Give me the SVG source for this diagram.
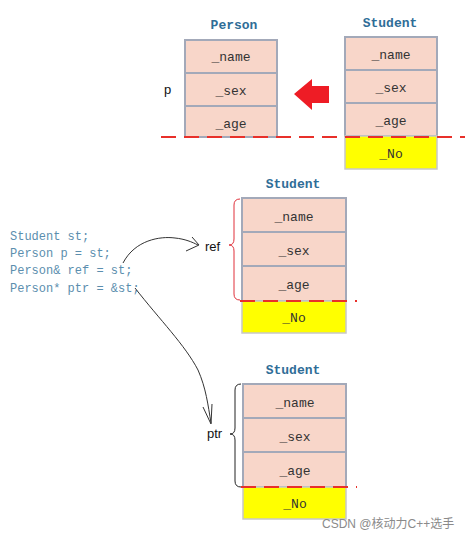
<svg xmlns="http://www.w3.org/2000/svg" width="474" height="537" viewBox="0 0 474 537">
<defs>
<style>
.cell{fill:#f8d6c9;stroke:#a3a9b9;stroke-width:2}
.no{fill:#ffff00;stroke:#c8c8c8;stroke-width:1.5}
.lbl{font-family:"Liberation Mono",monospace;font-size:13px;fill:#333;text-anchor:middle}
.ttl{font-family:"Liberation Mono",monospace;font-size:13px;font-weight:bold;fill:#2f6d97;text-anchor:middle}
.code{font-family:"Liberation Mono",monospace;font-size:12px;fill:#5b8eae}
.side{font-family:"Liberation Sans",Arial,sans-serif;font-size:13px;fill:#111}
.dash{stroke:#e8302a;stroke-width:2;stroke-dasharray:15 8;fill:none}
.curve{stroke:#333;stroke-width:1;fill:none}
</style>
</defs>
<rect width="474" height="537" fill="#fff"/>

<g id="person-top">
<text class="ttl" x="234" y="29">Person</text>
<rect class="cell" x="185" y="40" width="92" height="33"/>
<rect class="cell" x="185" y="73" width="92" height="33"/>
<rect class="cell" x="185" y="106" width="92" height="31"/>
<text class="lbl" x="231" y="61">_name</text>
<text class="lbl" x="231" y="95">_sex</text>
<text class="lbl" x="231" y="128">_age</text>
<text class="side" x="164" y="94">p</text>
</g>

<g id="student-top">
<text class="ttl" x="390" y="27">Student</text>
<rect class="cell" x="345" y="37" width="92" height="33"/>
<rect class="cell" x="345" y="70" width="92" height="33"/>
<rect class="cell" x="345" y="103" width="92" height="33"/>
<rect class="no" x="345" y="136" width="92" height="33"/>
<text class="lbl" x="391" y="59">_name</text>
<text class="lbl" x="391" y="92">_sex</text>
<text class="lbl" x="391" y="125">_age</text>
<text class="lbl" x="391" y="158">_No</text>
</g>

<g id="red-arrow">
<polygon points="294,94 312,79 312,86 329,86 329,103 312,103 312,110" fill="#ee1c25"/>
</g>

<g id="student-ref">
<text class="ttl" x="293" y="188">Student</text>
<rect class="cell" x="242" y="198" width="104" height="34"/>
<rect class="cell" x="242" y="232" width="104" height="34"/>
<rect class="cell" x="242" y="266" width="104" height="35"/>
<rect class="no" x="242" y="301" width="104" height="32"/>
<text class="lbl" x="294" y="221">_name</text>
<text class="lbl" x="294" y="255">_sex</text>
<text class="lbl" x="294" y="289">_age</text>
<text class="lbl" x="294" y="322">_No</text>
<text class="side" x="205" y="251">ref</text>
<path d="M240,199 Q234,199 234,205 L234,239 Q234,245 229,245 Q234,245 234,251 L234,294 Q234,300 240,300" fill="none" stroke="#e0303a" stroke-width="1"/>
</g>

<g id="student-ptr">
<text class="ttl" x="293" y="374">Student</text>
<rect class="cell" x="243" y="384" width="103" height="34"/>
<rect class="cell" x="243" y="418" width="103" height="34"/>
<rect class="cell" x="243" y="452" width="103" height="35"/>
<rect class="no" x="243" y="487" width="103" height="32"/>
<text class="lbl" x="295" y="407">_name</text>
<text class="lbl" x="295" y="441">_sex</text>
<text class="lbl" x="295" y="475">_age</text>
<text class="lbl" x="295" y="508">_No</text>
<text class="side" x="207" y="438">ptr</text>
<path d="M241,384 Q235,384 235,390 L235,428 Q235,434 230,434 Q235,434 235,440 L235,481 Q235,487 241,487" fill="none" stroke="#222" stroke-width="1"/>
</g>

<g id="code">
<text class="code" x="10" y="240">Student st;</text>
<text class="code" x="10" y="257">Person p = st;</text>
<text class="code" x="10" y="274">Person&amp; ref = st;</text>
<text class="code" x="10" y="292">Person* ptr = &amp;st;</text>
</g>

<g id="connectors">
<line class="dash" x1="161" y1="137" x2="465" y2="137"/>
<line class="dash" x1="240" y1="301" x2="357" y2="301"/>
<line class="dash" x1="241" y1="487" x2="357" y2="487"/>
<path class="curve" d="M123,263 C135,240 160,236 175,238 C185,239 192,242 198,245"/>
<path class="curve" d="M192,237 L199,245 L186,251"/>
<path class="curve" d="M135,288 C160,320 185,345 198,370 C206,388 208,405 211,423"/>
<path class="curve" d="M203,407 L211,424 L212,404"/>
</g>

<text x="322" y="528" font-family="'Liberation Sans','Noto Sans CJK SC',sans-serif" font-size="12" fill="#8a8a8a">CSDN @核动力C++选手</text>
</svg>
